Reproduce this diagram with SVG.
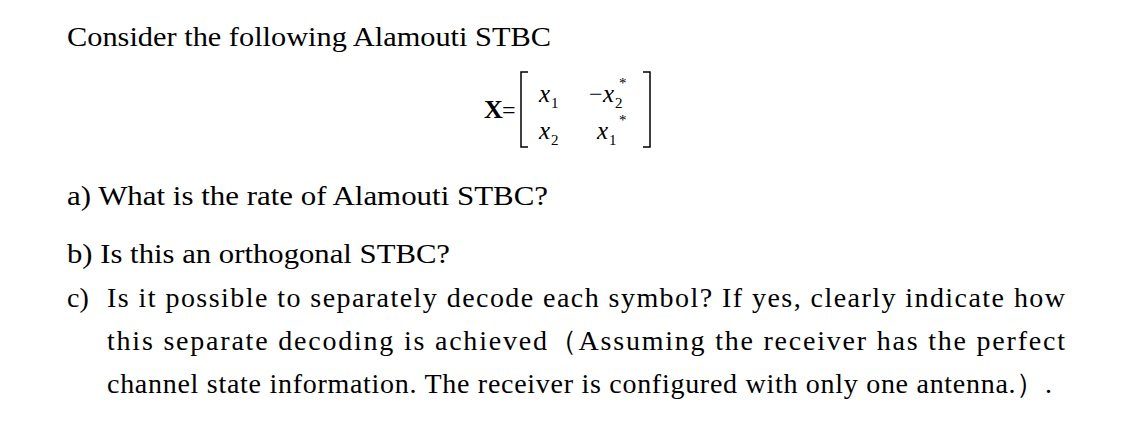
<svg xmlns="http://www.w3.org/2000/svg" width="1135" height="425" viewBox="0 0 1135 425">
<style>
.t{font-family:"Liberation Serif",serif;font-size:28px;fill:#000}
.m{font-family:"Liberation Serif",serif;font-size:25px;font-style:italic;fill:#000}
.s{font-family:"Liberation Serif",serif;font-size:15px;fill:#000}
.a{font-family:"Liberation Serif",serif;font-size:15px;fill:#000}
.br{fill:none;stroke:#000;stroke-width:1.5}
</style>
<rect width="1135" height="425" fill="#fff"/>
<text class="t" x="67" y="46" textLength="484" lengthAdjust="spacingAndGlyphs">Consider the following Alamouti STBC</text>
<g id="matrix">
<text x="484" y="118" font-family="Liberation Serif,serif" font-size="26" font-weight="bold">X</text>
<text x="502" y="118" font-family="Liberation Serif,serif" font-size="24">=</text>
<path class="br" d="M528 72 H521 V147 H528"/>
<path class="br" d="M643 72 H650 V147 H643"/>
<text class="m" x="539" y="102">x</text><text class="s" x="551" y="108">1</text>
<text class="m" x="539" y="139">x</text><text class="s" x="551" y="145">2</text>
<text x="589" y="102" font-family="Liberation Serif,serif" font-size="24">−</text>
<text class="m" x="603" y="102">x</text><text class="s" x="615" y="108">2</text>
<text class="a" x="619" y="88">*</text>
<text class="m" x="597" y="139">x</text><text class="s" x="609" y="145">1</text>
<text class="a" x="619" y="125">*</text>
</g>
<text class="t" x="67" y="205" textLength="481" lengthAdjust="spacingAndGlyphs">a)  What is the rate of Alamouti STBC?</text>
<text class="t" x="67" y="263" textLength="383" lengthAdjust="spacingAndGlyphs">b)  Is this an orthogonal STBC?</text>
<text class="t" x="67" y="307">c)</text>
<text class="t" x="107" y="307" textLength="958" lengthAdjust="spacing">Is it possible to separately decode each symbol? If yes, clearly indicate how</text>
<text class="t" x="107" y="350" textLength="958" lengthAdjust="spacing">this separate decoding is achieved（Assuming the receiver has the perfect</text>
<text class="t" x="107" y="393" textLength="945" lengthAdjust="spacing">channel state information. The receiver is configured with only one antenna.）.</text>
</svg>
